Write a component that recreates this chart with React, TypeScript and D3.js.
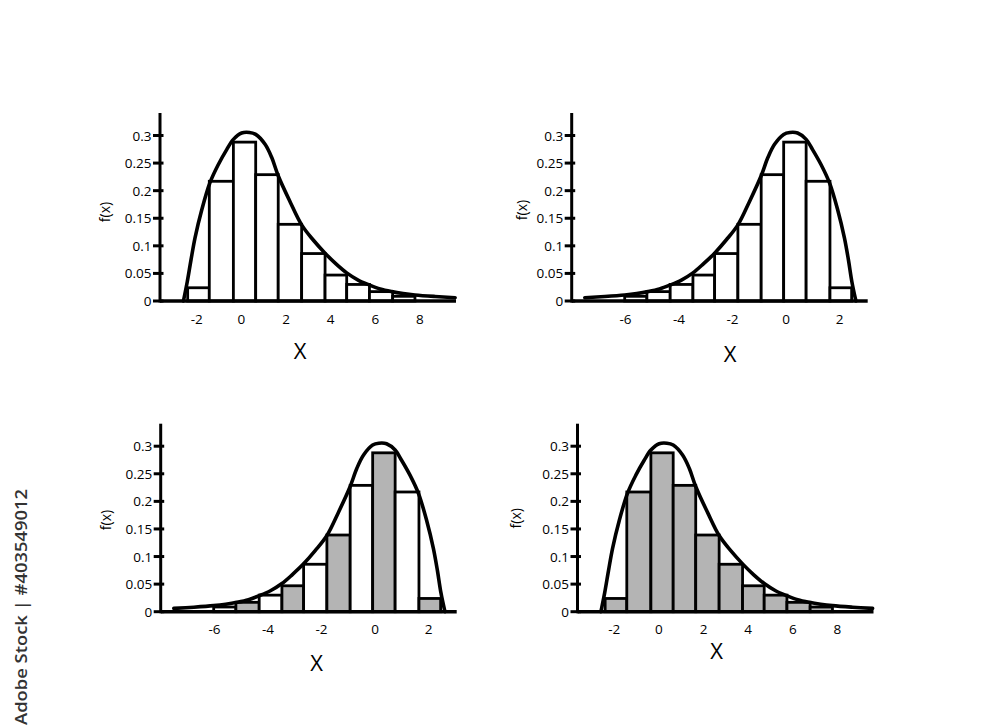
import React from "react";
import * as d3 from "d3";

// ---------- data ----------
const Y_TICKS = [0, 0.05, 0.1, 0.15, 0.2, 0.25, 0.3];
const Y_TICK_LABELS = ["0", "0.05", "0.1", "0.15", "0.2", "0.25", "0.3"];

const RIGHT_TICKS = [-2, 0, 2, 4, 6, 8];
const LEFT_TICKS = [-6, -4, -2, 0, 2];

// right-skewed histogram (bin edges and heights)
const RIGHT_EDGES = [-2.41, -1.44, -0.36, 0.64, 1.65, 2.7, 3.75, 4.72, 5.74, 6.78, 7.78];
const RIGHT_HEIGHTS = [0.024, 0.217, 0.288, 0.229, 0.139, 0.086, 0.047, 0.03, 0.017, 0.0085];
// right-skewed density curve
const RIGHT_CURVE_X = [-2.6, -2.43, -2.26, -2.08, -1.78, -1.41, -1.04, -0.66, -0.36, 0.01, 0.36, 0.64, 1.06, 1.36, 1.65, 2.18, 2.7, 3.21, 3.75, 4.24, 4.72, 5.23, 5.74, 6.22, 6.74, 7.25, 7.78, 8.68, 9.58];
const RIGHT_CURVE_Y = [0, 0.0345, 0.0745, 0.1145, 0.165, 0.2145, 0.247, 0.2745, 0.293, 0.3045, 0.3055, 0.302, 0.284, 0.26, 0.227, 0.18, 0.138, 0.111, 0.0867, 0.0673, 0.051, 0.038, 0.029, 0.0218, 0.017, 0.0136, 0.011, 0.0082, 0.006];

// left-skewed histogram
const LEFT_EDGES = [-6.03, -5.2, -4.33, -3.48, -2.67, -1.8, -0.93, -0.09, 0.75, 1.64, 2.45];
const LEFT_HEIGHTS = [0.0085, 0.017, 0.03, 0.047, 0.086, 0.139, 0.229, 0.288, 0.217, 0.024];
// left-skewed density curve
const LEFT_CURVE_X = [-7.52, -6.77, -6.03, -5.58, -5.16, -4.73, -4.33, -3.91, -3.48, -3.09, -2.67, -2.23, -1.8, -1.37, -0.93, -0.68, -0.43, -0.09, 0.14, 0.43, 0.75, 0.99, 1.31, 1.62, 1.93, 2.18, 2.33, 2.46, 2.61];
const LEFT_CURVE_Y = [0.006, 0.0082, 0.011, 0.0136, 0.017, 0.0218, 0.029, 0.038, 0.051, 0.0673, 0.0867, 0.111, 0.138, 0.18, 0.227, 0.26, 0.284, 0.302, 0.3055, 0.3045, 0.293, 0.2745, 0.247, 0.2145, 0.165, 0.1145, 0.0745, 0.0345, 0];

// ---------- layout ----------
const DATASETS: Record<string, any> = {
  right: { edges: RIGHT_EDGES, heights: RIGHT_HEIGHTS, cx: RIGHT_CURVE_X, cy: RIGHT_CURVE_Y, ticks: RIGHT_TICKS, domain: [-3.65, 9.62] },
  left: { edges: LEFT_EDGES, heights: LEFT_HEIGHTS, cx: LEFT_CURVE_X, cy: LEFT_CURVE_Y, ticks: LEFT_TICKS, domain: [-8.01, 3.05] },
};

const PANELS = [
  { kind: "right", axisX: 160, baseY: 301, fill: "none", xl: [140, 49], fl: [-56, -89] },
  { kind: "left", axisX: 571.7, baseY: 301, fill: "none", xl: [158.3, 52], fl: [-50.5, -91] },
  { kind: "left", axisX: 160.7, baseY: 611.7, fill: "alt", xl: [156, 50], fl: [-55.7, -91.7] },
  { kind: "right", axisX: 577.5, baseY: 611.7, fill: "all", xl: [139.2, 38.3], fl: [-62.3, -93.4] },
];

const FONT = "'Open Sans', 'DejaVu Sans', sans-serif";
const GRAY = "#b4b4b4";
const AXIS_LEN = 296;
const Y_PX_03 = 165.5;
const Y_AXIS_H = 188;

function Panel({ p }: { p: any }) {
  const ds = DATASETS[p.kind];
  const x = d3.scaleLinear().domain(ds.domain).range([p.axisX, p.axisX + AXIS_LEN]);
  const y = d3.scaleLinear().domain([0, 0.3]).range([p.baseY, p.baseY - Y_PX_03]);
  const pts: [number, number][] = ds.cx.map((v: number, i: number) => [v, ds.cy[i]]);
  const line = d3
    .line<[number, number]>()
    .x((d) => x(d[0]))
    .y((d) => y(d[1]))
    .curve(d3.curveCatmullRom.alpha(0.5));
  const n = ds.heights.length;
  const fillFor = (i: number) => {
    if (p.fill === "all") return GRAY;
    if (p.fill === "alt") return (n - 1 - i) % 2 === 0 ? GRAY : "white";
    return "white";
  };
  return (
    <g>
      {ds.heights.map((h: number, i: number) => (
        <rect
          key={i}
          x={x(ds.edges[i])}
          y={y(h)}
          width={x(ds.edges[i + 1]) - x(ds.edges[i])}
          height={y(0) - y(h)}
          fill={fillFor(i)}
          stroke="black"
          strokeWidth={2.8}
        />
      ))}
      <path d={line(pts) || ""} fill="none" stroke="black" strokeWidth={3.6} strokeLinecap="round" />
      {/* y axis */}
      <line x1={p.axisX} x2={p.axisX} y1={p.baseY + 1.5} y2={p.baseY - Y_AXIS_H} stroke="black" strokeWidth={3} />
      {Y_TICKS.map((t, i) => (
        <g key={i}>
          <line x1={p.axisX - 7} x2={p.axisX + 3.5} y1={y(t)} y2={y(t)} stroke="black" strokeWidth={3} />
          <text
            x={p.axisX - 8.5}
            y={y(t)}
            textAnchor="end"
            dominantBaseline="central"
            fontFamily={FONT}
            fontSize={13.5}
            fill="black"
          >
            {Y_TICK_LABELS[i]}
          </text>
        </g>
      ))}
      {/* x axis */}
      <line x1={p.axisX} x2={p.axisX + AXIS_LEN} y1={p.baseY} y2={p.baseY} stroke="black" strokeWidth={3.4} />
      {ds.ticks.map((t: number) => (
        <text
          key={t}
          x={x(t)}
          y={p.baseY + 17.5}
          textAnchor="middle"
          dominantBaseline="central"
          fontFamily={FONT}
          fontSize={13.5}
          fill="black"
        >
          {t}
        </text>
      ))}
      <text
        x={p.axisX + p.xl[0]}
        y={p.baseY + p.xl[1]}
        textAnchor="middle"
        dominantBaseline="central"
        fontFamily={FONT}
        fontSize={22}
        fill="black"
      >
        X
      </text>
      <text
        transform={`translate(${p.axisX + p.fl[0]},${p.baseY + p.fl[1]}) rotate(-90)`}
        textAnchor="middle"
        dominantBaseline="central"
        fontFamily={FONT}
        fontSize={14}
        fill="black"
      >
        f(x)
      </text>
    </g>
  );
}

export default function App() {
  return (
    <div style={{ position: "absolute", left: 0, top: 0 }}>
      <svg width={1000} height={727} style={{ display: "block", background: "white" }}>
        <rect width={1000} height={727} fill="white" />
        {PANELS.map((p, i) => (
          <Panel key={i} p={p} />
        ))}
        <text
          transform="translate(20,725) rotate(-90)"
          textAnchor="start"
          dominantBaseline="central"
          fontFamily={FONT}
          fontSize={17}
          fontWeight={600}
          fill="#333333"
          textLength={236}
          lengthAdjust="spacingAndGlyphs"
        >
          Adobe Stock | #403549012
        </text>
      </svg>
    </div>
  );
}
